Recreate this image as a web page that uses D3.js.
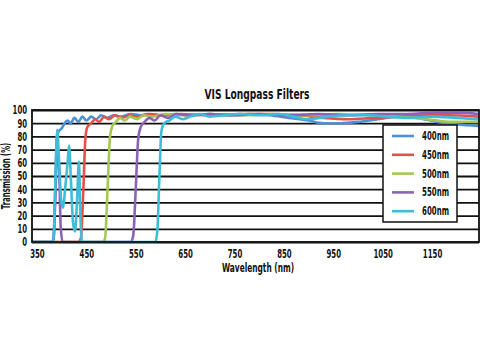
<!DOCTYPE html>
<html>
<head>
<meta charset="utf-8">
<script src="https://cdn.jsdelivr.net/npm/d3@7"></script>
<style>
  body { margin: 0; background: #fff; }
  text { font-family: "DejaVu Sans Condensed", "DejaVu Sans", sans-serif; font-weight: bold; fill: #111; }
</style>
</head>
<body>
<svg id="chart"></svg>
<script>
// Series names and colours
const seriesNames = ['400nm', '450nm', '500nm', '550nm', '600nm'];
const seriesColors = ['#4e8fd8', '#e2524c', '#a4c853', '#8b63b6', '#3ebdd8'];

// x tick labels and y ticks
const xTicks = [350, 450, 550, 650, 750, 850, 950, 1050, 1150];
const yTicks = [0, 10, 20, 30, 40, 50, 60, 70, 80, 90, 100];

// Transmission curves: [wavelength, %]
const blue400 = [[340,0],[380,0],[384,4],[387,40],[390,78],[394,84],[400,86],[406,90],[412,92],[418,90],[426,94],[434,91],[442,95],[450,92],[460,95],[470,93],[480,96],[492,94],[505,96],[520,95],[540,97],[560,96],[580,97],[600,96],[630,97],[660,96],[700,97],[740,96],[780,97],[820,96],[860,94],[900,92],[930,90],[965,90],[1000,91],[1040,93],[1080,95],[1120,94],[1160,91],[1200,89],[1245,88]];
const red450 = [[340,0],[434,0],[439,3],[444,40],[448,78],[452,87],[460,90],[468,93],[476,91],[486,95],[496,93],[508,96],[522,94],[538,96],[556,95],[575,97],[600,96],[640,97],[700,96],[760,97],[820,97],[880,96],[930,94],[980,93],[1030,94],[1080,95],[1130,96],[1180,96],[1245,95]];
const green500 = [[340,0],[484,0],[488,3],[493,40],[498,80],[503,88],[510,91],[518,94],[528,92],[538,95],[552,93],[566,96],[584,95],[610,97],[650,96],[700,97],[760,96],[830,97],[900,96],[960,97],[1020,96],[1080,95],[1140,93],[1190,91],[1245,91]];
const purple550 = [[340,0],[383,0],[387,30],[391,70],[395,55],[398,12],[402,0],[540,0],[545,5],[550,40],[555,78],[560,87],[568,91],[578,94],[588,92],[600,96],[615,94],[632,97],[660,96],[700,97],[750,96],[800,97],[860,96],[920,97],[980,96],[1040,97],[1100,97],[1160,98],[1200,98],[1245,97]];
const cyan600 = [[340,0],[383,0],[387,40],[391,85],[395,60],[399,32],[403,26],[407,40],[412,60],[415,73],[419,45],[423,15],[427,8],[431,30],[435,61],[438,20],[441,0],[590,0],[594,10],[598,50],[602,84],[608,90],[618,92],[630,95],[645,93],[660,95],[680,97],[700,95],[730,96],[760,97],[800,96],[840,97],[870,95],[900,93],[940,95],[980,96],[1020,96],[1060,95],[1100,94],[1150,95],[1200,94],[1245,93]];

const seriesData = [blue400, red450, green500, purple550, cyan600];

const width = 480, height = 360;
const margin = { top: 110, right: 1, bottom: 118, left: 32 };

// squeeze text horizontally to mimic the narrow original face
const condense = (sel, factor) => {
  sel.each(function () {
    const len = this.getComputedTextLength();
    d3.select(this)
      .attr('textLength', len * factor)
      .attr('lengthAdjust', 'spacingAndGlyphs');
  });
};

const svg = d3.select('#chart')
  .attr('width', width)
  .attr('height', height);

const x = d3.scaleLinear()
  .domain([340, 1245])
  .range([margin.left, width - margin.right]);

const y = d3.scaleLinear()
  .domain([0, 100])
  .range([height - margin.bottom, margin.top]);

// Title
svg.append('text')
  .attr('x', 257)
  .attr('y', 99)
  .attr('text-anchor', 'middle')
  .style('font-size', '14.5px')
  .text('VIS Longpass Filters')
  .call(condense, 0.7);

// Gridlines and y labels
const yAxis = svg.append('g')
  .attr('transform', `translate(${margin.left},0)`)
  .call(d3.axisLeft(y)
    .tickValues(yTicks)
    .tickSize(-(width - margin.left - margin.right))
    .tickPadding(5));
yAxis.select('.domain').remove();
yAxis.selectAll('line').attr('stroke', '#111').attr('stroke-width', 1.8);
yAxis.selectAll('text').style('font-size', '12px').style('font-family', null).call(condense, 0.64);

// x labels
const xAxis = svg.append('g')
  .attr('transform', `translate(0,${height - margin.bottom})`)
  .call(d3.axisBottom(x).tickValues(xTicks).tickFormat(d3.format('d')).tickSize(0).tickPadding(7));
xAxis.select('.domain').remove();
xAxis.selectAll('text').style('font-size', '12.5px').style('font-family', null).call(condense, 0.62);

// Curves
const line = d3.line()
  .x(d => x(d[0]))
  .y(d => y(d[1]))
  .curve(d3.curveMonotoneX);

svg.append('g')
  .selectAll('path')
  .data(seriesData)
  .enter()
  .append('path')
  .attr('d', line)
  .attr('fill', 'none')
  .attr('stroke', (d, i) => seriesColors[i])
  .attr('stroke-width', 2.6)
  .attr('stroke-linejoin', 'round');

// Plot frame
svg.append('rect')
  .attr('x', margin.left)
  .attr('y', margin.top)
  .attr('width', width - margin.left - margin.right)
  .attr('height', height - margin.top - margin.bottom)
  .attr('fill', 'none')
  .attr('stroke', '#111')
  .attr('stroke-width', 1.8);

// Axis titles
svg.append('text')
  .attr('x', 258)
  .attr('y', 272)
  .attr('text-anchor', 'middle')
  .style('font-size', '12.5px')
  .text('Wavelength (nm)')
  .call(condense, 0.66);

svg.append('text')
  .attr('transform', 'translate(10,176) rotate(-90)')
  .attr('text-anchor', 'middle')
  .style('font-size', '12px')
  .text('Transmission (%)')
  .call(condense, 0.64);

// Legend
const legend = svg.append('g');
legend.append('rect')
  .attr('x', 383)
  .attr('y', 125)
  .attr('width', 74)
  .attr('height', 97)
  .attr('fill', '#fff')
  .attr('stroke', '#111')
  .attr('stroke-width', 1.5);

const item = legend.selectAll('.item')
  .data(seriesNames)
  .enter()
  .append('g')
  .attr('class', 'item')
  .attr('transform', (d, i) => `translate(0,${136 + i * 18.8})`);

item.append('line')
  .attr('x1', 392)
  .attr('x2', 414)
  .attr('stroke', (d, i) => seriesColors[i])
  .attr('stroke-width', 2.6);

item.append('text')
  .attr('x', 422)
  .attr('dy', 4)
  .style('font-size', '11.5px')
  .text(d => d)
  .call(condense, 0.68);
</script>
</body>
</html>
